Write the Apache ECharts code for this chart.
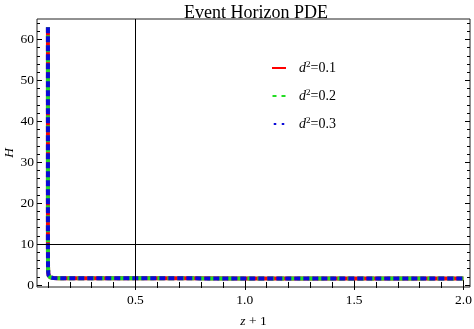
<!DOCTYPE html>
<html><head><meta charset="utf-8">
<script src="https://cdn.jsdelivr.net/npm/echarts@6/dist/echarts.min.js"></script>
<style>html,body{margin:0;padding:0;background:#fff}#c{width:474px;height:329px}</style>
</head><body><div id="c"></div>
<script>
// Data
const zPlusOne = [0.1, 0.1, 0.1004, 0.1009, 0.1016, 0.103, 0.106, 0.11, 0.116, 0.125, 0.15, 0.2, 0.3, 0.5, 0.75, 1.0, 1.25, 1.5, 1.75, 2.0];
const H_d01 = [63.0, 10.0, 4.6, 3.6, 2.9, 2.35, 2.0, 1.85, 1.75, 1.69, 1.65, 1.63, 1.62, 1.61, 1.61, 1.6, 1.6, 1.6, 1.6, 1.6];
const H_d02 = [63.0, 10.0, 4.6, 3.6, 2.9, 2.35, 2.0, 1.85, 1.75, 1.69, 1.65, 1.63, 1.62, 1.61, 1.61, 1.6, 1.6, 1.6, 1.6, 1.6];
const H_d03 = [63.0, 10.0, 4.6, 3.6, 2.9, 2.35, 2.0, 1.85, 1.75, 1.69, 1.65, 1.63, 1.62, 1.61, 1.61, 1.6, 1.6, 1.6, 1.6, 1.6];
const seriesNames = ['d2=0.1', 'd2=0.2', 'd2=0.3'];
const refLineX = [0.5];
const refLineY = [10];
// Tick labels
const xMajor = [0.5, 1.0, 1.5, 2.0];
const xMinor = [0.1, 0.2, 0.3, 0.4, 0.6, 0.7, 0.8, 0.9, 1.1, 1.2, 1.3, 1.4, 1.6, 1.7, 1.8, 1.9];
const yMajor = [0, 10, 20, 30, 40, 50, 60];
const yMinor = [2, 4, 6, 8, 12, 14, 16, 18, 22, 24, 26, 28, 32, 34, 36, 38, 42, 44, 46, 48, 52, 54, 56, 58, 62, 64];

const X_MIN = 0.05, X_MAX = 2.03, Y_MIN = -0.5, Y_MAX = 65;
const FONT = 'Liberation Serif';

function pairs(xs, ys) { return xs.map((x, i) => [x, ys[i]]); }

function xAx(pos, ticks, len, labels, extra) {
  return Object.assign({
    type: 'value', position: pos, min: X_MIN, max: X_MAX,
    axisLine: { show: false }, splitLine: { show: false },
    axisTick: { show: true, inside: true, length: len, customValues: ticks, lineStyle: { color: '#000', width: 1 } },
    axisLabel: labels ? { show: true, customValues: ticks, margin: 6, color: '#000', fontFamily: FONT, fontSize: 13.5, formatter: v => v.toFixed(1) } : { show: false }
  }, extra || {});
}
function yAx(pos, ticks, len, labels, extra) {
  return Object.assign({
    type: 'value', position: pos, min: Y_MIN, max: Y_MAX,
    axisLine: { show: false }, splitLine: { show: false },
    axisTick: { show: true, inside: true, length: len, customValues: ticks, lineStyle: { color: '#000', width: 1 } },
    axisLabel: labels ? { show: true, customValues: ticks, margin: 3, color: '#000', fontFamily: FONT, fontSize: 13.5, formatter: v => String(Math.round(v)) } : { show: false }
  }, extra || {});
}

const legendFmt = name => {
  const parts = name.split('=');
  return '{i|d}{s|2}{n|=' + parts[1] + '}';
};
const legendIcons = [
  'path://M0,0H14V2H0Z',
  'path://M0,0H4V2H0ZM9,0H13V2H9Z',
  'path://M0,0H2.5V2H0ZM8,0H10.5V2H8Z'
];

const chart = echarts.init(document.getElementById('c'), null, { renderer: 'canvas' });
chart.setOption({
  animation: false,
  backgroundColor: '#fff',
  title: {
    text: 'Event Horizon PDE', left: 179, top: -1,
    textStyle: { fontFamily: FONT, fontSize: 18, fontWeight: 'normal', color: '#000' }
  },
  grid: { left: 37, right: 4, top: 19, bottom: 42, show: true, borderColor: '#222', borderWidth: 1, backgroundColor: 'transparent', outerBoundsMode: 'none', containLabel: false },
  legend: {
    orient: 'vertical', left: 267, top: 55, itemGap: 12, itemWidth: 14, itemHeight: 2,
    data: seriesNames.map((n, i) => ({ name: n, icon: legendIcons[i] })),
    formatter: legendFmt,
    textStyle: {
      color: '#000', fontFamily: FONT, fontSize: 14, padding: [0, 0, 0, 8], lineHeight: 16,
      rich: {
        i: { fontFamily: FONT, fontSize: 14, fontStyle: 'italic', color: '#000' },
        s: { fontFamily: FONT, fontSize: 9, color: '#000', padding: [0, 0, 7, 0] },
        n: { fontFamily: FONT, fontSize: 14, color: '#000' }
      }
    }
  },
  xAxis: [
    xAx('bottom', xMajor, 5, true, {
      name: '{i|z} + 1', nameLocation: 'middle', nameGap: 27, nameMoveOverlap: false,
      nameTextStyle: { fontFamily: FONT, fontSize: 13.5, color: '#000', rich: { i: { fontFamily: FONT, fontSize: 13.5, fontStyle: 'italic', color: '#000' } } }
    }),
    xAx('bottom', xMinor, 3, false),
    xAx('top', xMajor, 5, false),
    xAx('top', xMinor, 3, false)
  ],
  yAxis: [
    yAx('left', yMajor, 5, true, {
      name: 'H', nameLocation: 'middle', nameGap: 21, nameRotate: 90, nameMoveOverlap: false,
      nameTextStyle: { fontFamily: FONT, fontSize: 13.5, fontStyle: 'italic', color: '#000' }
    }),
    yAx('left', yMinor, 3, false),
    yAx('right', yMajor, 5, false),
    yAx('right', yMinor, 3, false)
  ],
  series: [
    {
      name: 'refs', type: 'line', data: [], z: 1, silent: true,
      markLine: {
        silent: true, symbol: 'none', label: { show: false },
        lineStyle: { color: '#000', width: 1, type: 'solid' },
        data: refLineX.map(v => ({ xAxis: v })).concat(refLineY.map(v => ({ yAxis: v })))
      }
    },
    {
      name: seriesNames[0], type: 'line', data: pairs(zPlusOne, H_d01), z: 2,
      symbol: 'none', showSymbol: false, smooth: false, color: '#ff0000',
      lineStyle: { color: '#ff0000', width: 4, type: 'solid' }
    },
    {
      name: seriesNames[1], type: 'line', data: pairs(zPlusOne, H_d02), z: 3,
      symbol: 'none', showSymbol: false, smooth: false, color: '#22dd22',
      lineStyle: { color: '#22dd22', width: 4, type: [7, 3], dashOffset: 2 }
    },
    {
      name: seriesNames[2], type: 'line', data: pairs(zPlusOne, H_d03), z: 4,
      symbol: 'none', showSymbol: false, smooth: false, color: '#0a0ad8',
      lineStyle: { color: '#0a0ad8', width: 4, type: [6, 3] }
    }
  ]
});
</script>
</body></html>
